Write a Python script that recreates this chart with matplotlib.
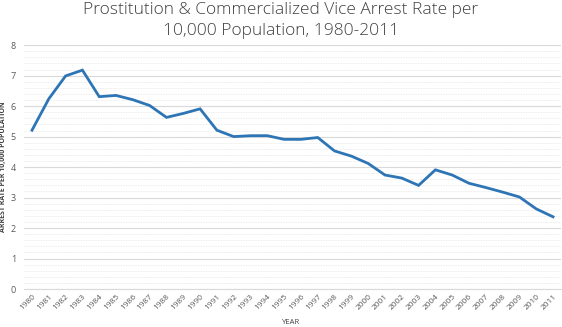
import matplotlib
matplotlib.use("Agg")
import matplotlib.pyplot as plt
from matplotlib.ticker import MultipleLocator

years = list(range(1980, 2012))
rates = [5.21, 6.24, 6.99, 7.18, 6.31, 6.35, 6.21, 6.02, 5.63, 5.76, 5.91,
         5.21, 5.00, 5.03, 5.03, 4.91, 4.91, 4.97, 4.53, 4.36, 4.12,
         3.74, 3.64, 3.40, 3.91, 3.74, 3.47, 3.33, 3.18, 3.02, 2.63, 2.37]
title = "Prostitution & Commercialized Vice Arrest Rate per\n10,000 Population, 1980-2011"
ylabel = "ARREST RATE PER 10,000 POPULATION"
xlabel = "YEAR"

plt.rcParams['font.family'] = ['Open Sans', 'DejaVu Sans']
fig = plt.figure(figsize=(5.62, 3.27), dpi=100)
ax = fig.add_axes([0.042, 0.116, 0.957, 0.746])

ax.plot(years, rates, color='#2E75B6', lw=2.0, solid_joinstyle='miter', zorder=3)
ax.set_xlim(1979.5, 2011.5)
ax.set_ylim(0, 8)
ax.yaxis.set_major_locator(MultipleLocator(1))
ax.yaxis.set_minor_locator(MultipleLocator(0.2))
ax.grid(axis='y', which='major', color='#D9D9D9', lw=0.8, zorder=0)
ax.grid(axis='y', which='minor', color='#E6E6E6', lw=0.6, ls=(0, (1, 1)), zorder=0)
ax.set_xticks(years)
ax.set_xticklabels([str(y) for y in years], rotation=45, fontsize=6,
                   color='#595959', ha='right', rotation_mode='anchor')
ax.tick_params(axis='y', labelsize=6.5, labelcolor='#595959', length=0, pad=5.5)
ax.tick_params(axis='x', length=0, pad=3)
ax.tick_params(axis='y', which='minor', length=0)
for s in ['top', 'right', 'left']:
    ax.spines[s].set_visible(False)
ax.spines['bottom'].set_color('#D9D9D9')
ax.spines['bottom'].set_linewidth(0.8)

fig.text(0.5, 0.995, title, ha='center', va='top', fontsize=12.5, color='#404040',
         linespacing=1.45, fontweight='light')
fig.text(0.0, 0.49, ylabel, rotation=90, ha='left', va='center', fontsize=5.0,
         color='#404040', fontweight='bold')
fig.text(0.517, 0.004, xlabel, ha='center', va='bottom', fontsize=5.5, color='#404040')

fig.savefig('out.png', dpi=100)
